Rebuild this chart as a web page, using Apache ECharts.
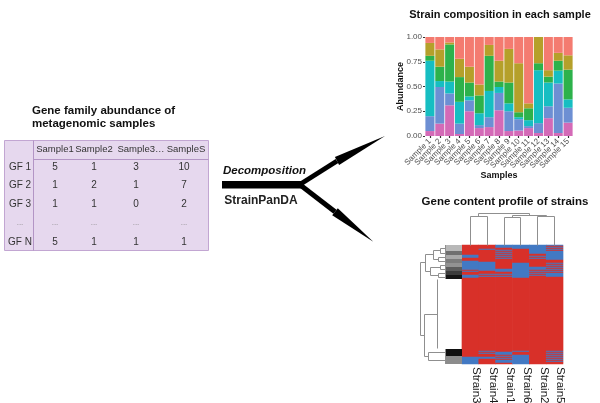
<!DOCTYPE html>
<html>
<head>
<meta charset="utf-8">
<script src="https://cdn.jsdelivr.net/npm/echarts@6.0.0/dist/echarts.min.js"></script>
<style>
html,body{margin:0;padding:0;background:#ffffff;}
#chart{width:600px;height:403px;}
</style>
</head>
<body>
<div id="chart"></div>
<script>
// ================= DATA =================
// --- Strain composition in each sample (stacked, bottom -> top: Strain6 ... Strain1)
const samples = ['Sample 1','Sample 2','Sample 3','Sample 4','Sample 5','Sample 6','Sample 7','Sample 8','Sample 9','Sample 10','Sample 11','Sample 12','Sample 13','Sample 14','Sample 15'];
const abundanceTicks = [0, 0.25, 0.5, 0.75, 1];
const strain6 = [0.05, 0.125, 0.31, 0.02, 0.25, 0.08, 0.09, 0.26, 0.05, 0.055, 0.08, 0.03, 0.18, 0.03, 0.135];
const strain5 = [0.15, 0.37, 0.12, 0.105, 0.11, 0.03, 0.10, 0.175, 0.20, 0.115, 0.02, 0.10, 0.12, 0.50, 0.15];
const strain4 = [0.56, 0.06, 0.12, 0.22, 0.04, 0.12, 0.265, 0.06, 0.08, 0.02, 0.06, 0.535, 0.24, 0.13, 0.085];
const strain3 = [0.05, 0.145, 0.375, 0.25, 0.14, 0.18, 0.355, 0.055, 0.21, 0.05, 0.12, 0.07, 0.06, 0.10, 0.30];
const strain2 = [0.13, 0.175, 0.02, 0.185, 0.16, 0.11, 0.11, 0.21, 0.34, 0.495, 0.05, 0.265, 0.065, 0.08, 0.145];
const strain1 = [0.06, 0.125, 0.055, 0.22, 0.30, 0.48, 0.08, 0.24, 0.12, 0.265, 0.67, 0.0, 0.335, 0.16, 0.185];
const stackNames = ['Strain6','Strain5','Strain4','Strain3','Strain2','Strain1'];
const stackValues = [strain6, strain5, strain4, strain3, strain2, strain1];

// --- Gene family abundance table
const tableHeader = ['Sample1', 'Sample2', 'Sample3\u2026', 'SampleS'];
const tableRowLabels = ['GF 1', 'GF 2', 'GF 3', '...', 'GF N'];
const tableValues = [
  ['5', '1', '3', '10'],
  ['1', '2', '1', '7'],
  ['1', '1', '0', '2'],
  ['...', '...', '...', '...'],
  ['5', '1', '1', '1']
];

// --- Gene content profile of strains (r = present, b = absent; run lengths, top -> bottom)
const heatStrains = ['Strain3', 'Strain4', 'Strain1', 'Strain6', 'Strain2', 'Strain5'];
const heatRuns = {
  Strain3: 'r10 b3 r3 b9 r1 b1 r3 b3 r1 r70 r8 b7',
  Strain4: 'r4 b1 r12 b9 r3 b1 r1 b1 r2 r70 r2 b1 r1 b1 r3 b2 r5',
  Strain1: 'b3 r2 b1 r1 b1 r1 b1 r1 b1 r1 b1 r10 b3 r2 b1 r1 b1 r2 r70 r3 b3 r1 b1 r1 b1 r1 b3 r1',
  Strain6: 'b4 r14 b15 r1 r70 r2 b1 r3 b9',
  Strain2: 'b9 r2 b1 r1 b1 r8 b3 r1 b1 r1 b1 r1 b1 r3 r70 r15',
  Strain5: 'b1 r1 b1 r1 b1 r1 b9 r3 b1 r1 b1 r1 b1 r1 b1 r1 b1 r1 b4 r2 r70 r2 b1 r1 b1 r1 b1 r1 b1 r1 b1 r1 b1 r2'
};
// column dendrogram links: [pos1, h1, pos2, h2, mergeHeight]
const colDendroLinks = [
  [0, 0, 1, 0, 28.3],
  [2, 0, 3, 0, 27.7],
  [4, 0, 5, 0, 29],
  [2.5, 27.7, 4.5, 29, 30],
  [0.5, 28.3, 3.5, 30, 32]
];
// row dendrogram leaf groups: [firstRow, lastRow, mergeHeight]
const rowLeafGroups = [
  [0, 5, 17], [6, 9, 17], [10, 13, 17], [14, 17, 17], [18, 21, 17],
  [22, 25, 17], [26, 29, 17], [30, 33, 17], [104, 110, 17], [111, 118, 17]
];
// row dendrogram links: [row1, h1, row2, h2, mergeHeight]
const rowDendroLinks = [
  [2.5, 17, 7.5, 17, 22],
  [11.5, 17, 15.5, 17, 24],
  [19.5, 17, 23.5, 17, 22],
  [27.5, 17, 31.5, 17, 24],
  [5, 22, 13.5, 24, 29],
  [21.5, 22, 29.5, 24, 32],
  [9.25, 29, 25.5, 32, 37],
  [34, 25, 103, 25, 25],
  [107, 17, 114.5, 17, 34],
  [68.5, 25, 110.75, 34, 38],
  [17.4, 37, 89.6, 38, 42]
];

// ================= STYLE =================
const FONT = '"Liberation Sans", Arial, Helvetica, sans-serif';
const barColors = ['#D46AB7', '#6D8FD3', '#16BEC2', '#2DB24B', '#B5A02A', '#F47B70'];
const PRESENT = '#D8302A', ABSENT = '#4379C3';
const DENDRO = '#8f8f8f';
const leafShades = ['#b8b8b8', '#707070', '#a9a9a9', '#7c7c7c', '#929292', '#5c5c5c', '#3c3c3c', '#161616', '#111111', '#8c8c8c'];

// ================= BUILD =================
function expandRuns(s) {
  const out = [];
  s.trim().split(/\s+/).forEach(t => {
    const v = t[0] === 'r' ? 1 : 0;
    const n = parseInt(t.slice(1), 10);
    for (let i = 0; i < n; i++) out.push(v);
  });
  return out;
}
const heatCols = heatStrains.map(s => expandRuns(heatRuns[s]));
const nRows = Math.max.apply(null, heatCols.map(c => c.length));
const rowCats = Array.from({ length: nRows }, (_, i) => String(i));
const heatData = [];
heatCols.forEach((col, ci) => col.forEach((v, ri) => heatData.push([ci, ri, v])));

const snap = v => Math.round(v - 0.5) + 0.5;
function linkRenderer(swap) {
  return function (params, api) {
    const p1 = api.value(0), h1 = api.value(1), p2 = api.value(2), h2 = api.value(3), hm = api.value(4);
    const pt = (p, h) => {
      const c = swap ? api.coord([h, p]) : api.coord([p, h]);
      return [snap(c[0]), snap(c[1])];
    };
    return {
      type: 'polyline', silent: true,
      shape: { points: [pt(p1, h1), pt(p1, hm), pt(p2, hm), pt(p2, h2)] },
      style: { stroke: DENDRO, lineWidth: 1, fill: null }
    };
  };
}
function leafRenderer(params, api) {
  const first = api.value(0), last = api.value(1), hm = api.value(2);
  const shade = leafShades[params.dataIndex % leafShades.length];
  const children = [];
  for (let r = first; r <= last; r++) {
    const a = api.coord([0, r]), b = api.coord([hm, r]);
    children.push({ type: 'line', shape: { x1: a[0], y1: snap(a[1]), x2: b[0], y2: snap(b[1]) }, style: { stroke: shade, lineWidth: 1 } });
  }
  const t = api.coord([hm, first]), u = api.coord([hm, last]);
  children.push({ type: 'line', shape: { x1: snap(t[0]), y1: t[1] - 0.5, x2: snap(u[0]), y2: u[1] + 0.5 }, style: { stroke: DENDRO, lineWidth: 1 } });
  return { type: 'group', silent: true, children: children };
}

const barSeries = stackNames.map((name, i) => ({
  name: name, type: 'bar', stack: 'total', xAxisIndex: 0, yAxisIndex: 0,
  data: stackValues[i], barCategoryGap: '8%',
  itemStyle: { color: barColors[i] },
  emphasis: { disabled: true }, silent: true
}));

function txt(text, x, y, size, opts) {
  opts = opts || {};
  return {
    type: 'text', x: x, y: y, rotation: opts.rotation || 0, silent: true, z: 10,
    style: {
      text: text, fontSize: size, fontFamily: FONT, fontWeight: opts.weight || 'normal',
      fontStyle: opts.italic ? 'italic' : 'normal', fill: opts.color || '#111',
      align: opts.align || 'center', verticalAlign: 'middle', lineHeight: opts.lineHeight
    }
  };
}

const graphics = [];
// table
graphics.push({ type: 'rect', silent: true, shape: { x: 4.5, y: 140.5, width: 204, height: 110 }, style: { fill: '#E6D8EE', stroke: '#C2A6D2', lineWidth: 1 } });
graphics.push({ type: 'line', silent: true, shape: { x1: 33.5, y1: 140.5, x2: 33.5, y2: 250.5 }, style: { stroke: '#B395C5', lineWidth: 1 } });
graphics.push({ type: 'line', silent: true, shape: { x1: 33.5, y1: 159.5, x2: 208.5, y2: 159.5 }, style: { stroke: '#B395C5', lineWidth: 1 } });
const headerX = [55, 94, 141, 186];
const valueX = [55, 94, 136, 184];
const rowY = [167, 185.5, 204.5, 223, 242];
tableHeader.forEach((h, i) => graphics.push(txt(h, headerX[i], 149, 9.5, { color: '#333' })));
tableRowLabels.forEach((lab, r) => graphics.push(txt(lab, 20, rowY[r], lab === '...' ? 8 : 10, { color: lab === '...' ? '#888' : '#333' })));
tableValues.forEach((row, r) => row.forEach((v, c) => graphics.push(txt(v, valueX[c], rowY[r], v === '...' ? 8 : 10, { color: v === '...' ? '#888' : '#333' }))));
graphics.push(txt('Gene family abundance of\nmetagenomic samples', 32, 117.5, 11.5, { weight: 'bold', align: 'left', lineHeight: 13.5 }));

// arrow
graphics.push({ type: 'rect', silent: true, shape: { x: 222, y: 181, width: 80, height: 7.5 }, style: { fill: '#000' } });
graphics.push({ type: 'polyline', silent: true, shape: { points: [[299, 185], [337, 161]] }, style: { stroke: '#000', lineWidth: 5, fill: null } });
graphics.push({ type: 'polygon', silent: true, shape: { points: [[385, 136], [339.1, 165.0], [334.9, 157.0]] }, style: { fill: '#000' } });
graphics.push({ type: 'polyline', silent: true, shape: { points: [[299, 184], [335, 211.7]] }, style: { stroke: '#000', lineWidth: 5, fill: null } });
graphics.push({ type: 'polygon', silent: true, shape: { points: [[373.3, 241.7], [332.2, 215.2], [337.8, 208.2]] }, style: { fill: '#000' } });
graphics.push(txt('Decomposition', 264.5, 171, 11.5, { weight: 'bold', italic: true }));
graphics.push(txt('StrainPanDA', 261, 201, 12, { weight: 'bold', color: '#222' }));

// titles & axis names
graphics.push(txt('Strain composition in each sample', 500, 15, 11, { weight: 'bold' }));
graphics.push(txt('Gene content profile of strains', 505, 202, 11.5, { weight: 'bold' }));
graphics.push(txt('Samples', 499, 175.5, 9, { weight: 'bold' }));
graphics.push(txt('Abundance', 401, 86.5, 9, { weight: 'bold', rotation: Math.PI / 2 }));

const option = {
  animation: false,
  backgroundColor: '#ffffff',
  textStyle: { fontFamily: FONT },
  grid: [
    { left: 425, top: 37, width: 148, height: 99, containLabel: false, outerBoundsMode: 'none' },
    { left: 462, top: 245, width: 101, height: 119, containLabel: false, outerBoundsMode: 'none' },
    { left: 418, top: 245, width: 44, height: 119, containLabel: false, outerBoundsMode: 'none' },
    { left: 462, top: 209, width: 101, height: 36, containLabel: false, outerBoundsMode: 'none' }
  ],
  xAxis: [
    {
      type: 'category', gridIndex: 0, data: samples,
      axisLine: { show: false },
      axisTick: { show: true, alignWithLabel: true, length: 2, lineStyle: { color: '#333', width: 1.2 } },
      axisLabel: { rotate: 45, interval: 0, fontSize: 8, color: '#4d4d4d', margin: 4, fontFamily: FONT },
      splitLine: { show: false }
    },
    {
      type: 'category', gridIndex: 1, data: heatStrains,
      axisLine: { show: false }, axisTick: { show: false },
      axisLabel: { rotate: -90, interval: 0, fontSize: 11.5, color: '#1a1a1a', margin: 3, verticalAlign: 'bottom', fontFamily: FONT },
      splitLine: { show: false }
    },
    { type: 'value', gridIndex: 2, min: 0, max: 44, inverse: true, show: false },
    { type: 'value', gridIndex: 3, min: -0.5, max: 5.5, show: false }
  ],
  yAxis: [
    {
      type: 'value', gridIndex: 0, min: abundanceTicks[0], max: abundanceTicks[abundanceTicks.length - 1], interval: 0.25,
      axisLine: { show: false },
      axisTick: { show: true, length: 2, lineStyle: { color: '#333', width: 1.2 } },
      axisLabel: { formatter: v => v.toFixed(2), fontSize: 8, color: '#4d4d4d', margin: 3, fontFamily: FONT },
      splitLine: { show: false }
    },
    { type: 'category', gridIndex: 1, data: rowCats, inverse: true, show: false },
    { type: 'value', gridIndex: 2, min: -0.5, max: nRows - 0.5, inverse: true, show: false },
    { type: 'value', gridIndex: 3, min: 0, max: 36, show: false }
  ],
  visualMap: [{
    type: 'piecewise', show: false, seriesIndex: 6, dimension: 2,
    pieces: [{ value: 1, color: PRESENT }, { value: 0, color: ABSENT }]
  }],
  series: barSeries.concat([
    {
      type: 'heatmap', xAxisIndex: 1, yAxisIndex: 1, data: heatData,
      progressive: 0, silent: true, emphasis: { disabled: true },
      itemStyle: { borderWidth: 0 }
    },
    {
      type: 'custom', xAxisIndex: 3, yAxisIndex: 3, data: colDendroLinks,
      renderItem: linkRenderer(false), clip: false, silent: true
    },
    {
      type: 'custom', xAxisIndex: 2, yAxisIndex: 2, data: rowDendroLinks,
      renderItem: linkRenderer(true), clip: false, silent: true
    },
    {
      type: 'custom', xAxisIndex: 2, yAxisIndex: 2, data: rowLeafGroups,
      renderItem: leafRenderer, clip: false, silent: true
    }
  ]),
  graphic: graphics
};

const chart = echarts.init(document.getElementById('chart'), null, { renderer: 'canvas', width: 600, height: 403 });
chart.setOption(option);
</script>
</body>
</html>
